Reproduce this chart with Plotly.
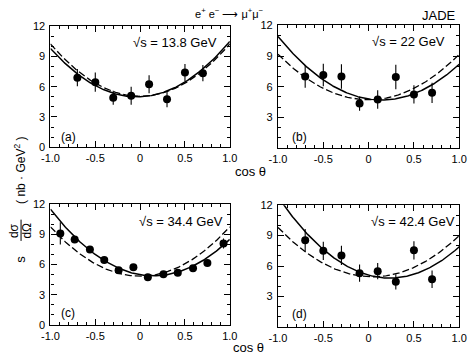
import numpy as np
import plotly.graph_objects as go

W, H = 474, 361

# ---------------- data ----------------
a_cos = [-0.7, -0.5, -0.3, -0.1, 0.1, 0.3, 0.5, 0.7]
a_val = [6.9, 6.45, 4.9, 5.1, 6.25, 4.75, 7.4, 7.35]
a_err = [0.85, 0.95, 0.7, 0.9, 0.9, 0.8, 0.85, 0.8]

b_cos = [-0.7, -0.5, -0.3, -0.1, 0.1, 0.3, 0.5, 0.7]
b_val = [7.0, 7.15, 7.0, 4.35, 4.75, 6.95, 5.25, 5.4]
b_err = [1.1, 1.1, 1.2, 0.7, 0.9, 1.2, 0.9, 1.0]

c_cos = [-0.89, -0.73, -0.56, -0.40, -0.24, -0.075, 0.086, 0.26, 0.42, 0.59, 0.75, 0.93]
c_val = [9.1, 8.5, 7.5, 6.45, 5.45, 5.75, 4.75, 5.05, 5.2, 5.65, 6.15, 8.1]
c_err = [1.1, 0.3, 0.3, 0.25, 0.2, 0.2, 0.2, 0.25, 0.2, 0.2, 0.25, 0.5]

d_cos = [-0.7, -0.5, -0.3, -0.1, 0.1, 0.3, 0.5, 0.7]
d_val = [8.55, 7.5, 7.05, 5.3, 5.5, 4.45, 7.55, 4.7]
d_err = [1.1, 0.9, 0.95, 0.85, 0.8, 0.75, 0.9, 0.85]

# curve parameters: value = p0 + p1*cos + p2*cos^2
a_solid = [5.0, 0.35, 5.15]
a_dash = [5.05, 0.0, 5.2]
b_solid = [4.8, -1.35, 4.75]
b_dash = [4.72, 0.0, 4.45]
c_solid = [5.0, -1.5, 5.0]
c_dash = [4.85, 0.0, 4.9]
d_solid = [5.1, -2.45, 5.25]
d_dash = [4.95, -0.4, 4.45]

energies = ["13.8", "22", "34.4", "42.4"]
panel_tags = ["(a)", "(b)", "(c)", "(d)"]
x_tickvals = [-1.0, -0.5, 0, 0.5, 1.0]
x_ticktext = ["-1.0", "-0.5", "0", "0.5", "1.0"]
y_tickvals = [0, 3, 6, 9, 12]

panels = [
    (a_cos, a_val, a_err, a_solid, a_dash),
    (b_cos, b_val, b_err, b_solid, b_dash),
    (c_cos, c_val, c_err, c_solid, c_dash),
    (d_cos, d_val, d_err, d_solid, d_dash),
]

# plot-area boxes in pixels (left, right, top, bottom)
boxes = [(43, 229, 21, 146), (279, 467, 20, 147), (43, 229, 205, 330), (279, 467, 206, 332)]
show_zero = [True, False, True, False]


def px(x):
    return x / W


def py(y):
    return 1 - y / H


FONT = "Liberation Sans"
fig = go.Figure()
grid = np.linspace(-1, 1, 201)

for i, (cs, vs, es, sol, das) in enumerate(panels):
    xa = "x" if i == 0 else f"x{i+1}"
    ya = "y" if i == 0 else f"y{i+1}"
    fig.add_trace(go.Scatter(
        x=grid, y=das[0] + das[1] * grid + das[2] * grid ** 2, mode="lines",
        line=dict(color="black", width=1.3, dash="7px,3px"), xaxis=xa, yaxis=ya,
        showlegend=False, hoverinfo="skip"))
    fig.add_trace(go.Scatter(
        x=grid, y=sol[0] + sol[1] * grid + sol[2] * grid ** 2, mode="lines",
        line=dict(color="black", width=1.5), xaxis=xa, yaxis=ya,
        showlegend=False, hoverinfo="skip"))
    fig.add_trace(go.Scatter(
        x=cs, y=vs, mode="markers",
        marker=dict(color="black", size=8),
        error_y=dict(type="data", array=es, visible=True, color="black", thickness=1.1, width=0),
        xaxis=xa, yaxis=ya, showlegend=False))

layout = dict(
    width=W, height=H, margin=dict(l=0, r=0, t=0, b=0),
    paper_bgcolor="white", plot_bgcolor="white",
    font=dict(family=FONT, color="black", size=11),
    showlegend=False,
)

for i, (l, r, t, b) in enumerate(boxes):
    xk = "xaxis" if i == 0 else f"xaxis{i+1}"
    yk = "yaxis" if i == 0 else f"yaxis{i+1}"
    ya = "y" if i == 0 else f"y{i+1}"
    xa = "x" if i == 0 else f"x{i+1}"
    layout[xk] = dict(
        domain=[px(l), px(r)], anchor=ya, range=[-1, 1],
        tickvals=x_tickvals, ticktext=x_ticktext,
        ticks="inside", ticklen=6, tickwidth=1, tickcolor="black",
        minor=dict(dtick=0.1, tick0=0, ticks="inside", ticklen=3, tickcolor="black", tickwidth=1),
        showline=True, linecolor="black", linewidth=1.2, mirror="ticks",
        showgrid=False, zeroline=False, tickfont=dict(size=11, family=FONT),
        ticklabelstandoff=1,
    )
    yt = [str(v) for v in y_tickvals]
    if not show_zero[i]:
        yt[0] = " "
    layout[yk] = dict(
        domain=[py(b), py(t)], anchor=xa, range=[0, 12],
        tickvals=y_tickvals, ticktext=yt,
        ticks="inside", ticklen=6, tickwidth=1, tickcolor="black",
        minor=dict(dtick=1, tick0=0, ticks="inside", ticklen=3, tickcolor="black", tickwidth=1),
        showline=True, linecolor="black", linewidth=1.2, mirror="ticks",
        showgrid=False, zeroline=False, tickfont=dict(size=11, family=FONT),
        ticklabelstandoff=2,
    )

ann = []
def add_text(x, y, text, size=12, angle=0):
    ann.append(dict(x=px(x), y=py(y), xref="paper", yref="paper", text=text,
                    showarrow=False, textangle=angle,
                    font=dict(size=size, family=FONT, color="black"),
                    xanchor="center", yanchor="middle"))

energy_pos = [(172, 38), (414, 37), (178, 223), (419, 223)]
tag_pos = [(62, 135), (301, 135), (61, 318), (301, 319)]
for i in range(4):
    add_text(*energy_pos[i], f"√s = {energies[i]} GeV", size=13)
    add_text(*tag_pos[i], panel_tags[i], size=12)

add_text(229, 7, "e<sup>+</sup> e<sup>−</sup> ⟶ μ<sup>+</sup>μ<sup>−</sup>", size=11)
add_text(446, 10, "JADE", size=13)
add_text(251, 171, "cos θ", size=13)
add_text(248, 353, "cos θ", size=13)

# y-axis label
add_text(12, 262, "s", size=13, angle=-90)
add_text(6, 232, "dσ", size=12, angle=-90)
add_text(19, 232, "dΩ", size=12, angle=-90)
add_text(12, 170, "( nb · GeV<sup>2</sup> )", size=12, angle=-90)

layout["annotations"] = ann
layout["shapes"] = [dict(type="line", xref="paper", yref="paper",
                         x0=px(12.5), x1=px(12.5), y0=py(221), y1=py(243),
                         line=dict(color="black", width=1))]

fig.update_layout(**layout)
fig.write_html("out.html", config={"displayModeBar": False},
               post_script="document.body.style.margin='0';")
